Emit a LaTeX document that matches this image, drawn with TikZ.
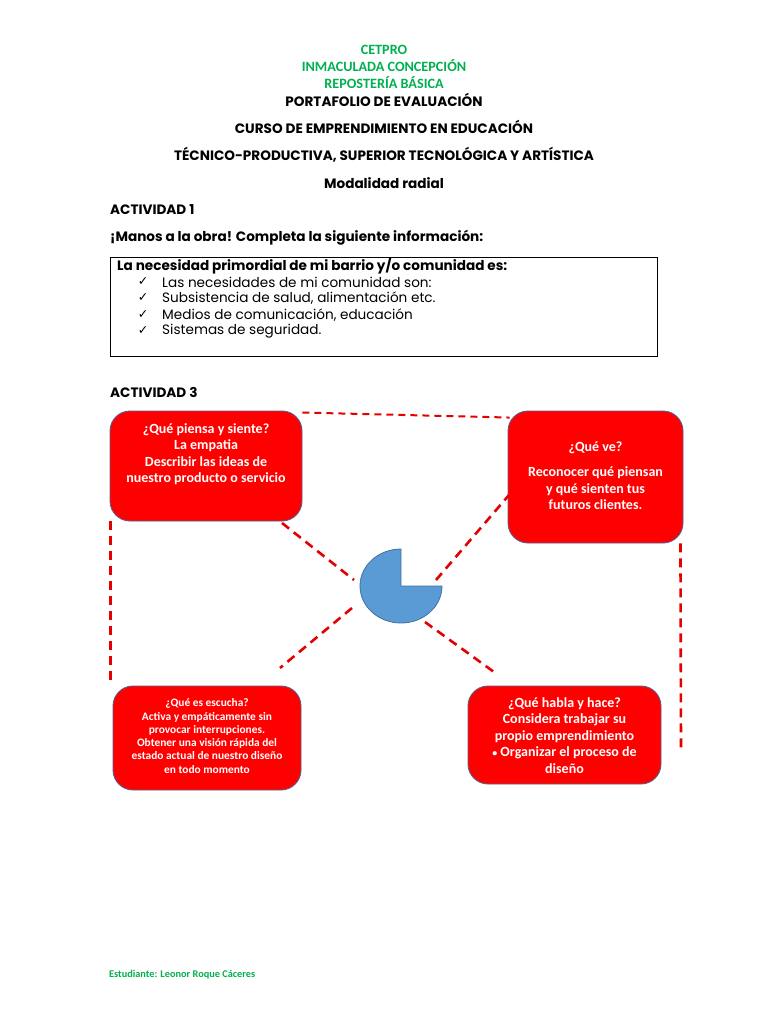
\documentclass[tikz,border=0pt]{standalone}
\usepackage{fontspec}
\setmainfont{Poppins}
\newfontfamily\boxfont{Carlito}
\newfontfamily\symfont{DejaVu Sans}
\usepackage{xcolor}
\usetikzlibrary{positioning,calc}
\definecolor{wordgreen}{RGB}{0,176,80}
\definecolor{boxred}{RGB}{255,0,0}
\definecolor{boxedge}{RGB}{88,96,140}
\definecolor{piefill}{RGB}{91,155,213}
\definecolor{pieedge}{RGB}{65,113,156}
\tikzset{
  heading/.style={inner sep=0pt,font=\fontsize{13.6}{16}\selectfont\bfseries},
  greenhead/.style={inner sep=0pt,text=wordgreen,font=\boxfont\fontsize{14.2}{16}\selectfont\bfseries},
  mapbox/.style={draw=boxedge,line width=0.9pt,fill=boxred,rounded corners=20pt,inner sep=0pt},
  boxtext/.style={inner sep=0pt,text=white,align=center,font=\boxfont\fontsize{14}{16.4}\selectfont\bfseries},
  link/.style={draw=red!90!black,line width=2.6pt,dash pattern=on 9pt off 6pt}
}
\begin{document}
\begin{tikzpicture}[x=1pt,y=-1pt]
\useasboundingbox[fill=white] (0,0) rectangle (768,1024);
% heading of the page
\node[greenhead] (cetpro) at (384,50) {CETPRO};
\node[greenhead] (school) at (384,66) {INMACULADA CONCEPCIÓN};
\node[greenhead] (course) at (384,83) {REPOSTERÍA BÁSICA};
\node[heading] (folio) at (384,100) {PORTAFOLIO DE EVALUACIÓN};
\node[heading] (curso) at (384,127) {CURSO DE EMPRENDIMIENTO EN EDUCACIÓN};
\node[heading] (tecnico) at (384,155) {TÉCNICO-PRODUCTIVA, SUPERIOR TECNOLÓGICA Y ARTÍSTICA};
\node[heading] (modal) at (384,183) {Modalidad radial};
% activity 1
\node[heading,anchor=west] (act1) at (110,210) {ACTIVIDAD 1};
\node[heading,anchor=west] (manos) at (110,238) {¡Manos a la obra! Completa la siguiente información:};
\draw[line width=0.8pt] (110,257) rectangle (657,356);
\node[heading,anchor=west] (needs) at (117,266) {La necesidad primordial de mi barrio y/o comunidad es:};
\foreach \y/\txt in {282/Las necesidades de mi comunidad son:,
    298/{Subsistencia de salud, alimentación etc.},
    315/{Medios de comunicación, educación},
    331/Sistemas de seguridad.}{
  \node[inner sep=0pt,font=\symfont\fontsize{12.5}{14}\selectfont] at (143,\y) {✓};
  \node[inner sep=0pt,anchor=west,font=\fontsize{13.6}{16}\selectfont] at (162,\y) {\txt};
}
% activity 3
\node[heading,anchor=west] (act3) at (110,392) {ACTIVIDAD 3};
\node[mapbox,minimum width=192pt,minimum height=110pt] (think) at (206,466) {};
\node[mapbox,minimum width=175pt,minimum height=132pt] (see) at (595.5,477) {};
\node[mapbox,minimum width=188pt,minimum height=104pt] (listen) at (207,738) {};
\node[mapbox,minimum width=193pt,minimum height=98pt] (speak) at (564.5,735) {};
\node[boxtext,anchor=north] (thinktxt) at ([yshift=-13pt]think.north)
  {¿Qué piensa y siente?\\La empatia\\Describir las ideas de\\nuestro producto o servicio};
\node[boxtext,anchor=north] (seetxt) at ([yshift=-31pt]see.north)
  {¿Qué ve?\\[9pt]Reconocer qué piensan\\y qué sienten tus\\futuros clientes.};
\node[boxtext,anchor=north,font=\boxfont\fontsize{11.4}{13.3}\selectfont\bfseries] (listentxt) at ([yshift=-13pt]listen.north)
  {¿Qué es escucha?\\Activa y empáticamente sin\\provocar interrupciones.\\Obtener una visión rápida del\\estado actual de nuestro diseño\\en todo momento};
\node[boxtext,anchor=north] (speaktxt) at ([yshift=-12pt]speak.north)
  {¿Qué habla y hace?\\Considera trabajar su\\propio emprendimiento\\{\fontsize{10}{12}\selectfont•} Organizar el proceso de\\diseño};
% pie in the middle
\coordinate (pie) at (401,586);
\filldraw[fill=piefill,draw=pieedge,line width=0.8pt] (pie) -- ++(41,0)
  arc[start angle=0,end angle=270,x radius=41,y radius=37] -- cycle;
% dashed links
\coordinate (pTL) at (354,580);
\coordinate (pTR) at (436,580);
\coordinate (pBL) at (352,608);
\coordinate (pBR) at (425,622);
\coordinate (eTL) at (282,523);
\coordinate (eTR) at (509,495);
\coordinate (eBL) at (280,668);
\coordinate (eBR) at (494,672);
\coordinate (eR) at (681,750);
\draw[link,line width=2pt,dash pattern=on 7pt off 5pt] ([yshift=-2pt]think.north east) -- ([shift={(2pt,-7pt)}]see.north west);
\draw[link] ([xshift=1pt]think.south west) -- ([xshift=-2pt]listen.north west);
\draw[link] ([xshift=-3pt]see.south east) -- (eR);
\draw[link] (eTL) -- (pTL);
\draw[link] (pTR) -- (eTR);
\draw[link] (pBL) -- (eBL);
\draw[link] (pBR) -- (eBR);
% footer
\node[inner sep=0pt,anchor=west,text=wordgreen,font=\boxfont\fontsize{10.3}{12}\selectfont\bfseries] (student) at (109,975) {Estudiante: Leonor Roque Cáceres};
\end{tikzpicture}
\end{document}
